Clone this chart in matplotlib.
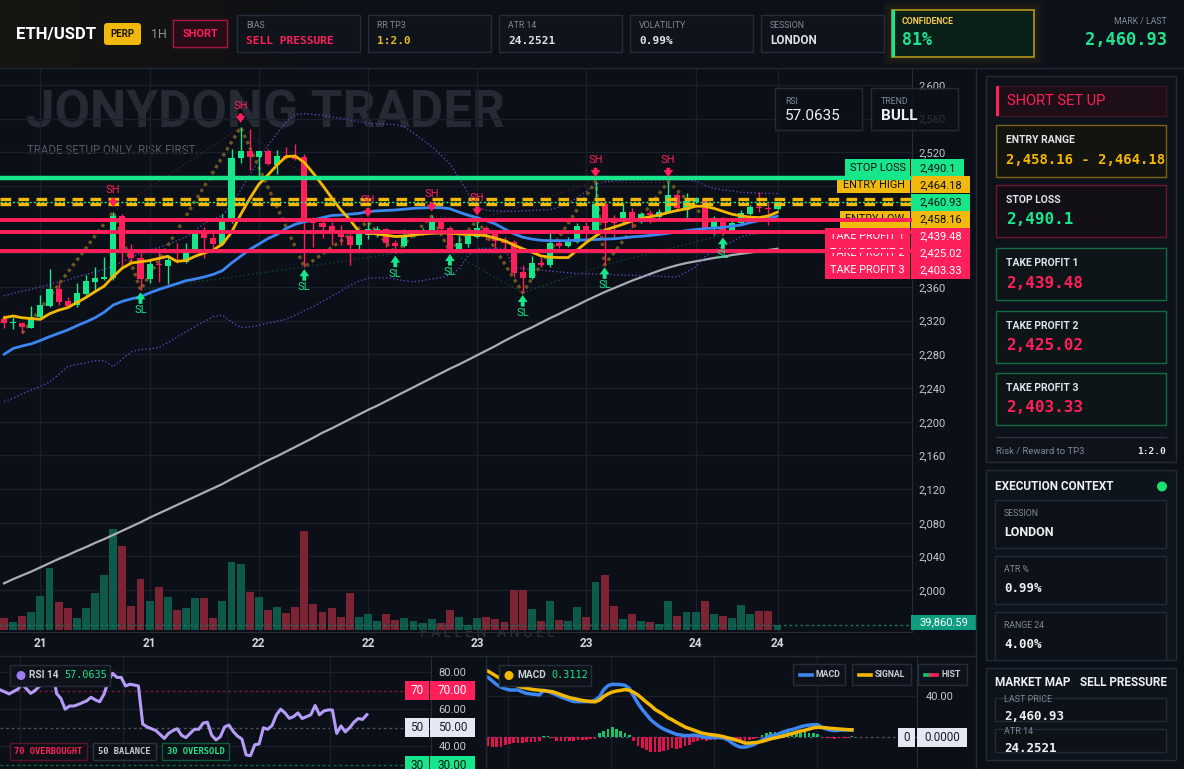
import numpy as np
import matplotlib
matplotlib.use("Agg")
import matplotlib.pyplot as plt
from matplotlib.patches import Rectangle, FancyBboxPatch, Circle
from matplotlib.lines import Line2D
from matplotlib.transforms import Affine2D

# ---------------- data ----------------
opens = [2321.6, 2317.0, 2316.8, 2311.7, 2324.8, 2337.4, 2357.6, 2343.4, 2338.2, 2352.1,
         2366.0, 2370.0, 2370.3, 2444.7, 2404.0, 2394.0, 2369.0, 2387.3, 2385.0, 2391.3,
         2390.0, 2403.9, 2423.8, 2418.6, 2410.7, 2439.6, 2512.9, 2521.6, 2514.0, 2521.6,
         2505.0, 2515.6, 2514.0, 2514.0, 2440.4, 2436.4, 2432.9, 2424.9, 2420.6, 2409.9,
         2421.8, 2426.0, 2428.5, 2411.9, 2408.7, 2420.6, 2423.8, 2425.0, 2440.8, 2430.5,
         2405.2, 2411.1, 2419.8, 2429.7, 2423.8, 2415.9, 2413.9, 2378.2, 2371.1, 2388.9,
         2386.2, 2412.7, 2408.7, 2413.9, 2432.5, 2425.8, 2458.6, 2441.6, 2437.6, 2449.5,
         2437.6, 2447.5, 2443.6, 2449.5, 2469.3, 2451.5, 2461.4, 2464.2, 2428.5, 2441.6,
         2427.7, 2435.6, 2446.7, 2455.4, 2454.3, 2452.7]
highs = [2326.7, 2324.8, 2317.6, 2337.8, 2350.5, 2381.0, 2366.3, 2348.5, 2364.4, 2374.3,
         2384.2, 2396.0, 2449.5, 2446.3, 2411.0, 2400.0, 2392.0, 2406.0, 2398.0, 2412.0,
         2412.7, 2425.7, 2431.7, 2423.8, 2446.7, 2524.0, 2549.7, 2547.7, 2521.6, 2523.5,
         2522.8, 2526.0, 2530.0, 2518.0, 2443.6, 2443.6, 2437.6, 2433.7, 2423.8, 2427.8,
         2437.6, 2432.0, 2429.7, 2415.9, 2428.5, 2427.5, 2429.7, 2444.4, 2441.6, 2432.9,
         2421.8, 2423.8, 2439.6, 2432.5, 2425.8, 2419.8, 2415.9, 2386.2, 2396.9, 2396.0,
         2427.0, 2415.5, 2419.8, 2436.4, 2437.6, 2485.2, 2463.4, 2445.5, 2459.4, 2453.5,
         2449.5, 2451.5, 2452.3, 2485.2, 2471.3, 2471.3, 2467.3, 2465.4, 2444.4, 2443.6,
         2439.6, 2451.5, 2457.4, 2473.3, 2459.4, 2461.5]
lows = [2310.9, 2309.7, 2305.0, 2310.9, 2321.6, 2335.8, 2338.6, 2335.8, 2336.6, 2350.5,
        2354.5, 2368.0, 2368.3, 2384.2, 2388.0, 2356.5, 2364.4, 2365.6, 2364.0, 2389.0,
        2388.9, 2402.0, 2394.0, 2406.0, 2409.9, 2436.4, 2507.0, 2499.0, 2491.9, 2504.9,
        2494.3, 2512.0, 2511.0, 2384.0, 2408.0, 2417.8, 2409.9, 2409.9, 2386.0, 2404.0,
        2416.6, 2420.0, 2407.9, 2400.0, 2408.0, 2419.0, 2422.0, 2423.8, 2425.8, 2402.0,
        2402.0, 2407.9, 2417.8, 2415.9, 2404.0, 2402.0, 2372.3, 2353.3, 2369.1, 2384.2,
        2384.2, 2406.0, 2407.5, 2412.7, 2415.9, 2423.8, 2386.2, 2419.8, 2435.6, 2429.7,
        2436.4, 2435.6, 2441.6, 2448.3, 2451.5, 2439.6, 2459.4, 2426.9, 2421.8, 2421.8,
        2425.8, 2433.7, 2445.5, 2449.5, 2433.7, 2451.5]
closes = [2316.8, 2317.6, 2312.1, 2324.8, 2338.6, 2357.6, 2342.6, 2337.4, 2353.3, 2367.5,
          2370.7, 2371.5, 2444.7, 2404.0, 2394.0, 2369.0, 2387.3, 2385.7, 2392.0, 2390.0,
          2404.8, 2423.0, 2418.6, 2410.7, 2439.6, 2513.7, 2521.6, 2514.0, 2521.6, 2505.7,
          2515.6, 2514.0, 2512.0, 2440.4, 2435.6, 2431.7, 2423.8, 2419.8, 2409.9, 2423.8,
          2428.5, 2428.5, 2411.9, 2408.7, 2421.0, 2424.9, 2427.0, 2436.8, 2428.9, 2404.0,
          2412.7, 2420.6, 2429.7, 2423.8, 2414.7, 2411.9, 2376.3, 2371.1, 2388.1, 2386.2,
          2411.9, 2408.7, 2413.9, 2432.5, 2425.8, 2458.6, 2436.4, 2435.6, 2449.5, 2441.6,
          2446.7, 2445.5, 2449.5, 2469.3, 2453.5, 2462.6, 2465.4, 2428.5, 2441.6, 2425.8,
          2435.6, 2447.5, 2455.4, 2453.5, 2452.7, 2460.93]
volumes = [96000, 64000, 112000, 144000, 272000, 496000, 224000, 176000, 96000, 176000,
           296000, 440000, 808000, 672000, 192000, 408000, 232000, 344000, 264000, 160000,
           176000, 256000, 256000, 96000, 232000, 544000, 528000, 304000, 264000, 160000,
           184000, 136000, 184000, 792000, 208000, 144000, 176000, 104000, 296000, 104000,
           128000, 72000, 128000, 80000, 96000, 72000, 56000, 88000, 56000, 160000,
           104000, 40000, 96000, 104000, 88000, 64000, 320000, 320000, 168000, 72000,
           232000, 80000, 72000, 184000, 104000, 384000, 440000, 192000, 88000, 128000,
           72000, 64000, 48000, 232000, 112000, 144000, 144000, 232000, 128000, 112000,
           96000, 200000, 128000, 152000, 152000, 39860.59]
ema_fast = [2323.5, 2325.6, 2323.5, 2322.5, 2321.6, 2328.2, 2332.5, 2335.5, 2341.5, 2347.5,
            2354.5, 2361.0, 2372.5, 2382.5, 2388.5, 2390.0, 2391.5, 2394.0, 2396.5, 2390.5,
            2391.5, 2396.5, 2400.5, 2404.0, 2411.0, 2425.0, 2446.0, 2465.0, 2482.0, 2493.0,
            2505.0, 2515.0, 2515.6, 2508.0, 2495.0, 2481.0, 2466.0, 2452.0, 2440.0, 2426.0,
            2424.0, 2423.0, 2421.5, 2420.0, 2420.5, 2421.8, 2423.0, 2423.8, 2424.3, 2424.2,
            2423.0, 2422.5, 2422.0, 2421.0, 2418.0, 2415.0, 2410.0, 2405.5, 2401.5, 2397.0,
            2395.5, 2395.0, 2395.0, 2404.0, 2413.0, 2420.5, 2427.5, 2431.0, 2434.5, 2438.5,
            2441.5, 2443.5, 2445.5, 2448.5, 2451.0, 2453.0, 2456.0, 2456.0, 2453.5, 2450.0,
            2446.5, 2444.5, 2443.0, 2442.5, 2444.5, 2449.0]
ema_slow = [2280.0, 2287.0, 2290.0, 2292.5, 2296.5, 2301.0, 2305.0, 2309.0, 2314.0, 2318.5,
            2323.5, 2330.0, 2338.6, 2343.0, 2346.0, 2348.5, 2353.0, 2357.0, 2360.5, 2364.0,
            2367.5, 2369.5, 2372.0, 2375.0, 2379.5, 2388.5, 2396.5, 2404.5, 2411.0, 2417.5,
            2422.5, 2429.5, 2434.5, 2437.5, 2439.6, 2442.5, 2445.0, 2445.5, 2446.5, 2447.5,
            2449.5, 2450.5, 2451.0, 2451.5, 2452.5, 2453.5, 2454.0, 2454.3, 2454.3, 2453.0,
            2449.0, 2445.3, 2442.4, 2438.8, 2434.9, 2429.0, 2423.5, 2419.2, 2417.0, 2415.5,
            2415.1, 2415.1, 2415.1, 2415.7, 2416.0, 2416.4, 2417.0, 2417.3, 2418.3, 2419.6,
            2420.3, 2421.3, 2422.5, 2423.9, 2425.3, 2427.0, 2428.3, 2429.4, 2430.0, 2430.8,
            2432.3, 2433.7, 2436.6, 2439.0, 2441.7, 2444.2]
ma_long = [2008.0, 2013.0, 2017.5, 2022.0, 2027.0, 2032.0, 2037.0, 2041.5, 2046.5, 2051.0,
           2056.0, 2060.5, 2065.5, 2070.5, 2075.5, 2080.5, 2086.0, 2091.0, 2096.0, 2101.0,
           2106.0, 2111.0, 2116.0, 2121.0, 2126.0, 2132.0, 2137.5, 2143.0, 2148.5, 2154.0,
           2159.0, 2164.5, 2170.0, 2175.5, 2181.0, 2187.0, 2192.0, 2197.5, 2203.0, 2208.5,
           2214.0, 2219.0, 2224.5, 2230.0, 2235.5, 2241.0, 2246.5, 2252.0, 2257.5, 2263.0,
           2268.0, 2273.5, 2279.0, 2284.5, 2290.0, 2296.0, 2301.5, 2307.0, 2312.0, 2317.5,
           2323.0, 2328.0, 2333.5, 2338.5, 2344.0, 2349.0, 2354.0, 2358.5, 2363.0, 2367.5,
           2371.5, 2375.5, 2379.5, 2383.0, 2386.0, 2388.5, 2390.5, 2392.5, 2394.5, 2396.0,
           2398.0, 2399.5, 2401.0, 2402.5, 2404.0, 2405.5]
bb_upper = [2349.5, 2352.5, 2355.0, 2357.5, 2360.0, 2363.0, 2366.0, 2368.5, 2372.0, 2375.0,
            2378.0, 2381.0, 2385.0, 2390.0, 2395.0, 2400.0, 2404.0, 2407.0, 2410.5, 2415.0,
            2419.5, 2427.0, 2435.5, 2441.0, 2445.0, 2458.0, 2475.0, 2493.0, 2511.0, 2528.5,
            2542.0, 2556.0, 2565.0, 2566.0, 2565.0, 2564.0, 2562.0, 2560.5, 2558.5, 2556.5,
            2554.5, 2554.0, 2553.5, 2553.0, 2550.0, 2543.0, 2535.0, 2527.0, 2517.0, 2506.0,
            2490.0, 2471.0, 2455.0, 2451.0, 2450.5, 2450.0, 2450.0, 2450.5, 2451.0, 2451.5,
            2452.0, 2455.0, 2460.0, 2466.0, 2474.0, 2482.0, 2485.0, 2486.0, 2486.5, 2487.0,
            2487.0, 2487.0, 2487.0, 2487.0, 2487.0, 2487.0, 2486.0, 2481.0, 2477.0, 2475.5,
            2474.0, 2472.5, 2472.0, 2471.5, 2471.3, 2471.0]
bb_lower = [2224.0, 2228.0, 2233.0, 2237.5, 2242.0, 2247.0, 2256.0, 2265.5, 2268.0, 2270.0,
            2272.5, 2272.5, 2265.5, 2274.5, 2283.0, 2285.7, 2286.5, 2288.0, 2294.0, 2300.5,
            2307.0, 2313.0, 2319.0, 2325.0, 2326.5, 2318.5, 2312.0, 2312.8, 2314.5, 2317.0,
            2319.5, 2321.7, 2326.5, 2332.0, 2337.0, 2343.0, 2349.0, 2355.0, 2362.0, 2367.0,
            2370.3, 2371.0, 2371.0, 2369.5, 2367.5, 2366.3, 2367.7, 2369.5, 2371.2, 2374.0,
            2381.5, 2397.0, 2405.9, 2406.0, 2406.0, 2406.0, 2383.0, 2382.0, 2381.0, 2380.0,
            2379.0, 2378.0, 2377.0, 2376.0, 2375.8, 2375.3, 2375.0, 2374.6, 2374.3, 2374.0,
            2373.5, 2373.0, 2372.7, 2372.3, 2372.0, 2378.0, 2384.0, 2396.0, 2403.0, 2408.5,
            2414.0, 2419.5, 2422.5, 2423.6, 2424.7, 2425.8]
rsi = [70.3, 69.3, 68.2, 69.5, 70.7, 73.5, 71.0, 68.5, 70.0, 72.3,
       73.4, 73.9, 82.0, 68.5, 65.8, 60.0, 61.7, 61.7, 62.5, 63.5,
       64.5, 66.4, 65.0, 64.0, 68.0, 75.0, 79.3, 77.1, 77.1, 72.5,
       73.4, 73.0, 72.5, 52.0, 50.5, 49.5, 48.6, 46.5, 44.3, 47.0,
       48.5, 49.5, 46.0, 44.7, 47.0, 49.2, 49.2, 52.5, 53.0, 46.0,
       43.5, 45.2, 50.5, 51.5, 48.0, 45.5, 44.0, 35.4, 35.0, 40.9,
       41.3, 50.0, 49.2, 51.2, 56.9, 60.0, 58.0, 55.1, 56.0, 58.0,
       55.0, 56.0, 57.0, 62.0, 57.0, 59.0, 59.6, 59.6, 47.0, 51.0,
       47.8, 50.0, 53.0, 55.0, 54.5, 57.06]
macd = [58.0, 54.5, 51.0, 48.5, 47.0, 45.8, 45.8, 45.8, 44.0, 42.5,
        42.0, 41.5, 41.0, 45.5, 44.5, 42.7, 41.0, 39.0, 37.5, 36.0,
        34.6, 34.5, 34.5, 34.5, 34.5, 36.0, 39.0, 46.0, 50.0, 51.3,
        51.2, 51.0, 50.3, 47.4, 40.0, 33.0, 27.0, 22.0, 17.0, 13.5,
        10.5, 8.0, 6.2, 4.5, 2.9, 2.2, 1.6, 1.6, 2.1, 1.8,
        0.5, -0.3, -0.3, -0.3, -0.3, -0.8, -2.5, -5.5, -8.0, -9.5,
        -9.5, -8.5, -7.3, -5.0, -2.8, -0.5, 1.5, 2.0, 3.5, 5.3,
        6.6, 7.5, 8.7, 10.2, 11.2, 11.8, 12.3, 12.2, 9.5, 8.0,
        7.0, 6.4, 6.8, 7.1, 7.1, 7.1]
signal = [64.0, 61.5, 59.0, 56.5, 54.5, 53.0, 51.2, 49.5, 48.3, 47.5,
          46.6, 46.0, 45.6, 45.2, 44.6, 44.2, 42.8, 41.3, 39.8, 38.4,
          37.5, 36.6, 35.7, 35.1, 34.7, 34.3, 36.0, 39.5, 42.0, 43.8,
          44.8, 45.4, 46.2, 45.5, 43.6, 41.0, 37.5, 34.0, 30.8, 27.0,
          24.5, 22.0, 19.0, 17.0, 14.5, 12.3, 10.0, 8.5, 7.0, 5.5,
          4.0, 3.2, 2.6, 2.1, 1.5, 0.6, -0.6, -1.5, -2.8, -4.0,
          -5.6, -5.6, -5.2, -4.9, -4.0, -2.8, -1.5, -0.6, 0.3, 1.2,
          2.5, 3.6, 4.8, 6.0, 6.8, 8.0, 9.2, 9.7, 9.5, 9.2,
          8.7, 8.4, 8.0, 7.7, 7.4, 7.2]
hist = [-8.4, -9.0, -9.7, -9.0, -7.4, -6.5, -5.8, -5.5, -5.2, -5.0,
        -4.5, -4.2, -4.0, 1.0, 1.0, -0.5, -3.5, -3.8, -3.8, -3.5,
        -3.2, -3.0, -2.6, -2.4, -2.0, -1.5, 4.5, 6.0, 8.5, 9.5,
        8.0, 6.0, 4.0, 2.5, -4.0, -8.0, -10.5, -12.5, -14.0, -14.5,
        -14.0, -13.0, -12.0, -10.5, -11.0, -10.0, -8.5, -7.0, -5.0, -3.5,
        -3.0, -3.5, -3.0, -2.5, -2.0, -1.5, -2.5, -4.0, -5.0, -5.5,
        -3.5, -2.5, -1.5, -0.5, 2.5, 4.5, 5.5, 5.0, 5.5, 5.5,
        5.0, 4.5, 4.5, 4.5, 5.0, 4.0, 4.0, 3.0, 0.5, -0.5,
        -1.0, -1.5, -1.0, -0.5, -0.5, 1.5]

swing_highs = [12, 26, 40, 47, 52, 65, 73]
swing_lows = [15, 33, 43, 49, 57, 66, 79]
zigzag = [2, 12, 15, 26, 33, 40, 43, 47, 49, 52, 57, 65, 66, 73, 79]

time_ticks = [4, 16, 28, 40, 52, 64, 76, 85]
time_labels = ["21", "21", "22", "22", "23", "23", "24", "24"]
price_ticks = list(range(2000, 2601, 40))

level_names = ["STOP LOSS", "ENTRY HIGH", "", "ENTRY LOW", "TAKE PROFIT 1", "TAKE PROFIT 2", "TAKE PROFIT 3"]
level_prices = [2490.1, 2464.18, 2460.93, 2458.16, 2439.48, 2425.02, 2403.33]
level_texts = ["2,490.1", "2,464.18", "2,460.93", "2,458.16", "2,439.48", "2,425.02", "2,403.33"]

rsi_levels = [70, 50, 30]
header_cards = [("BIAS", "SELL PRESSURE"), ("RR TP3", "1:2.0"), ("ATR 14", "24.2521"),
                ("VOLATILITY", "0.99%"), ("SESSION", "LONDON")]
setup_cards = [("ENTRY RANGE", "2,458.16 - 2,464.18"), ("STOP LOSS", "2,490.1"),
               ("TAKE PROFIT 1", "2,439.48"), ("TAKE PROFIT 2", "2,425.02"),
               ("TAKE PROFIT 3", "2,403.33")]
context_cards = [("SESSION", "LONDON"), ("ATR %", "0.99%"), ("RANGE 24", "4.00%")]
map_cards = [("LAST PRICE", "2,460.93"), ("ATR 14", "24.2521")]

# ---------------- look ----------------
W, H, DPI = 1184, 769, 100
BG = "#0b0f17"
PANEL = "#0f141d"
EDGE = "#252c3a"
GRID = "#1a202b"
GREEN = "#17e68a"
RED = "#ff1f5a"
YELLOW = "#f5b800"
BLUE = "#3b86f0"
PURPLE = "#5b45b0"
TXT = "#dde1e8"
MUTED = "#808897"
DARK = "#0b0f17"
SANS = ["Roboto", "DejaVu Sans"]
MONO = ["DejaVu Sans Mono"]
plt.rcParams["font.family"] = SANS

fig = plt.figure(figsize=(W / DPI, H / DPI), dpi=DPI)
fig.patch.set_facecolor(BG)
# pixel coords, origin top-left
PX = Affine2D().scale(1 / DPI, -1 / DPI).translate(0, H / DPI) + fig.dpi_scale_trans


def px_ax(x0, y0, x1, y1, z=0, fc="none"):
    a = fig.add_axes([x0 / W, 1 - y1 / H, (x1 - x0) / W, (y1 - y0) / H], zorder=z)
    a.set_facecolor(fc)
    for s in a.spines.values():
        s.set_visible(False)
    a.tick_params(length=0, labelbottom=False, labelleft=False)
    return a


def box(x0, y0, x1, y1, fc="none", ec="none", lw=1.0, z=3, alpha=1.0, r=0, on=None):
    if r:
        p = FancyBboxPatch((x0, y0), x1 - x0, y1 - y0, boxstyle=f"round,pad=0,rounding_size={r}")
    else:
        p = Rectangle((x0, y0), x1 - x0, y1 - y0)
    p.set(facecolor=fc, edgecolor=ec, linewidth=lw, zorder=z, alpha=alpha, transform=PX)
    if on is None:
        fig.add_artist(p)
    else:
        p.set_clip_on(False)
        on.add_patch(p)
    return p


def label(x, y, s, size=8, color=TXT, ha="left", va="center", bold=False, mono=False, z=6, on=None, **kw):
    kws = dict(fontsize=size, color=color, ha=ha, va=va, zorder=z, transform=PX,
               fontweight="bold" if bold else "normal", family=MONO if mono else SANS)
    kws.update(kw)
    if on is None:
        return fig.text(x, y, s, **kws)
    return on.text(x, y, s, clip_on=False, **kws)


def seg(xs, ys, color=EDGE, lw=1.0, z=4, ls="-"):
    fig.add_artist(Line2D(xs, ys, color=color, lw=lw, ls=ls, zorder=z, transform=PX))


def to_px(a, x, y):
    return PX.inverted().transform(a.transData.transform((x, y)))


n = len(closes)
x = np.arange(n)
o, hi, lo, c = (np.array(v) for v in (opens, highs, lows, closes))
up = c >= o

# ---------------- header ----------------
ax_head = px_ax(0, 0, W, 67, z=0)
t = np.clip(np.linspace(0, 1, 300) * 3.2, 0, 1)
c0 = np.array([0x17, 0x15, 0x10]) / 255
c1 = np.array([0x0c, 0x10, 0x18]) / 255
ax_head.imshow((c0[None, :] * (1 - t)[:, None] + c1[None, :] * t[:, None])[None], aspect="auto",
               extent=(0, 1, 0, 1))
ax_head.set_axis_off()
seg([0, W], [67.5, 67.5], "#222936", 1)

label(16, 34, "ETH/USDT", 12, "#ffffff", bold=True)
box(104, 23, 141, 45, fc="#f0b90b", r=3)
label(122.5, 34, "PERP", 7, "#1c1600", ha="center", bold=True)
label(151, 34, "1H", 9, "#8a909c")
box(171, 18, 229, 49, fc=RED, alpha=0.06, z=2.5)
box(173, 20, 227, 47, fc="#250c17", ec="#a3173f", lw=1)
label(200, 34, "SHORT", 7.8, RED, ha="center", bold=True)

card_x = [237, 368, 499, 630, 761]
card_col = [RED, "#e6bb1f", TXT, TXT, TXT]
for cx, (name, val), col in zip(card_x, header_cards, card_col):
    box(cx, 15, cx + 123, 52, fc="#0f131b", ec=EDGE)
    label(cx + 9, 26, name, 6.3, MUTED)
    label(cx + 9, 41, val, 8 if name != "SESSION" else 8.5, col, bold=True,
          mono=name != "SESSION")

for k in range(4):
    box(892 - 3 * k, 10 - 3 * k, 1034 + 3 * k, 57 + 3 * k, fc="#c9a21a", alpha=0.035, z=2.5)
box(892, 10, 1034, 57, fc="#0b1f19", ec="#b8951b", lw=1.2)
box(892, 10, 895, 57, fc=GREEN, z=3.2)
label(902, 22, "CONFIDENCE", 6.3, "#f2c94c", bold=True)
label(902, 40, "81%", 12, "#1fe391", bold=True, mono=True)
label(1167, 21.5, "MARK / LAST", 6.3, MUTED, ha="right")
label(1167, 40, "2,460.93", 12.3, "#1fe391", ha="right", bold=True, mono=True)

# ---------------- main price chart ----------------
XL = (-4 / 9.1, (912 - 4) / 9.1)
YL = (1950.2, 2620.2)
ax_bg = px_ax(0, 68, 912, 632, z=0, fc=BG)
ax_vol = px_ax(0, 68, 912, 630, z=1)
ax = px_ax(0, 68, 912, 632, z=2)
for a in (ax_bg, ax_vol, ax):
    a.set_xlim(XL)
ax_bg.set_ylim(YL)
ax.set_ylim(YL)
ax_vol.set_ylim(0, 562 * 8000)

ax_bg.set_xticks(time_ticks)
ax_bg.set_yticks(price_ticks)
ax_bg.grid(True, color=GRID, lw=1)

ax.set_xticks(time_ticks, time_labels)
ax.set_yticks(price_ticks, [f"{p:,}" for p in price_ticks])
ax.yaxis.tick_right()
ax.tick_params(axis="y", labelright=True, labelleft=False, labelsize=8, labelcolor="#c3c8d1", pad=4.3)
ax.tick_params(axis="x", labelbottom=True, labelsize=8.5, labelcolor="#d2d6de", pad=3.5)
for tl in ax.get_xticklabels():
    tl.set_fontweight("bold")
for side in ("right", "bottom"):
    ax.spines[side].set_visible(True)
    ax.spines[side].set_color("#262d3a")

# watermarks
label(26, 114, "JONYDONG TRADER", 37, "#252a34", bold=True, z=1, on=ax_bg)
label(27, 150, "TRADE SETUP ONLY. RISK FIRST.", 8.3, "#545a65", z=1, on=ax_bg)
ax_bg.text(487, 633, "F A L L E N   A N G E L", transform=PX, fontsize=10, color="#2c313b",
           ha="center", va="center", zorder=1)

# volume
ax_vol.bar(x, volumes, width=0.86, color=np.where(up, "#0d5a4b", "#7c2434"), zorder=1)
ax_vol.axhline(volumes[-1], color="#1d6f5d", lw=1, ls=(0, (2, 2)), zorder=2)

# indicators
ax.plot(x, ma_long, color="#a9adb5", lw=1.6, zorder=2.2)
ax.plot(x, bb_upper, color=PURPLE, lw=1, ls=(0, (1, 1.6)), zorder=2.2)
ax.plot(x, bb_lower, color=PURPLE, lw=1, ls=(0, (1, 1.6)), zorder=2.2)
zz_y = [hi[i] if i in swing_highs else lo[i] for i in zigzag]
ax.plot(zigzag, zz_y, color="#6a5620", lw=2.4, ls=(0, (1, 1.1)), zorder=2.3)
for a_, b_ in zip(swing_highs[:-1], swing_highs[1:]):
    ax.plot([a_, b_], [hi[a_], hi[b_]], color="#4d1a2d", lw=1, ls=(0, (1, 2)), zorder=2.2)
for a_, b_ in zip(swing_lows[:-1], swing_lows[1:]):
    ax.plot([a_, b_], [lo[a_], lo[b_]], color="#174535", lw=1, ls=(0, (1, 2)), zorder=2.2)

# candles
ccol = np.where(up, GREEN, RED)
ax.vlines(x, lo, hi, colors=ccol, lw=1, zorder=3)
ax.bar(x, np.maximum(np.abs(c - o), 1.3), bottom=np.minimum(o, c), width=0.66, color=ccol,
       lw=0, zorder=3.1)
ax.plot(x, ema_slow, color=BLUE, lw=2, zorder=3.3, solid_capstyle="round")
ax.plot(x, ema_fast, color=YELLOW, lw=2, zorder=3.3, solid_capstyle="round")

# level lines
level_style = [
    dict(color=GREEN, lw=3.2, ls="-", left=845, right=964, fc=GREEN, tc=DARK),
    dict(color=YELLOW, lw=2.4, ls=(0, (3.2, 2.2)), left=837, right=970, fc="#f0b90b", tc=DARK),
    dict(color=GREEN, lw=1, ls=(0, (1.5, 1.5)), left=None, right=970, fc=GREEN, tc=DARK),
    dict(color=YELLOW, lw=2.4, ls=(0, (3.2, 2.2)), left=840, right=970, fc="#f0b90b", tc=DARK),
    dict(color=RED, lw=2.8, ls="-", left=825, right=970, fc=RED, tc="#ffffff"),
    dict(color=RED, lw=2.8, ls="-", left=825, right=970, fc=RED, tc="#ffffff"),
    dict(color=RED, lw=2.8, ls="-", left=825, right=970, fc=RED, tc="#ffffff"),
]
for p, st in zip(level_prices, level_style):
    ax.axhline(p, color=st["color"], lw=st["lw"], ls=st["ls"], zorder=4)

mark_y = to_px(ax, 0, level_prices[2])[1]
for k, (name, ptxt, st) in enumerate(zip(level_names, level_texts, level_style)):
    cy = mark_y + (k - 2) * 17.1
    if name:
        box(st["left"], cy - 8.5, 910, cy + 8.5, fc=st["fc"], z=3.5, on=ax)
        label((st["left"] + 910) / 2, cy, name, 7.8, st["tc"], ha="center", z=3.6, on=ax)
    box(911, cy - 8.5, st["right"], cy + 8.5, fc=st["fc"], z=3.5, on=ax)
    label((911 + st["right"]) / 2, cy, ptxt, 8, st["tc"], ha="center", z=3.6, on=ax)

# swing markers
arrow = "simple,head_length=0.5,head_width=0.7,tail_width=0.28"
for i in swing_highs:
    ax.annotate("", xy=(i, hi[i]), xytext=(0, 10), textcoords="offset points", zorder=5,
                arrowprops=dict(arrowstyle=arrow, color=RED, lw=0, shrinkA=0, shrinkB=3.3))
    ax.annotate("SH", xy=(i, hi[i]), xytext=(0, 15.5), textcoords="offset points", ha="center",
                va="center", color=RED, fontsize=8, zorder=5)
for i in swing_lows:
    ax.annotate("", xy=(i, lo[i]), xytext=(0, -10), textcoords="offset points", zorder=5,
                arrowprops=dict(arrowstyle=arrow, color=GREEN, lw=0, shrinkA=0, shrinkB=1.7))
    ax.annotate("SL", xy=(i, lo[i]), xytext=(0, -14.5), textcoords="offset points", ha="center",
                va="center", color=GREEN, fontsize=8, zorder=5)

# volume value tag
vy = to_px(ax_vol, 0, volumes[-1])[1]
box(911, vy - 10.5, 976, vy + 4.5, fc="#0f9d7f", z=4)
label(943.5, vy - 3, f"{volumes[-1]:,.2f}", 8, "#ffffff", ha="center", z=5)

# RSI / TREND chips
for bx, name, val, bold in [(775, "RSI", "57.0635", False), (871, "TREND", "BULL", True)]:
    box(bx, 88, bx + 87, 130, fc=BG, ec="#2a3140", alpha=0.82)
    label(bx + 10, 101, name, 6.3, MUTED)
    label(bx + 10, 116.5, val, 11, "#eef0f4", bold=bold)

# ---------------- RSI panel ----------------
ax_rsi = px_ax(0, 656, 431, 769, z=1, fc=BG)
ax_rsi.set_xlim(-0.5 / 4.31, 430.5 / 4.31)
ax_rsi.set_ylim(27.85, 88.6)
ax_rsi.set_xticks([4.5, 28.5, 52.5, 76.5])
ax_rsi.set_yticks([40, 60, 80], ["40.00", "60.00", "80.00"])
ax_rsi.grid(True, color=GRID, lw=1)
ax_rsi.yaxis.tick_right()
ax_rsi.tick_params(axis="y", labelright=True, labelsize=8, labelcolor="#c3c8d1", pad=5.5)
ax_rsi.spines["right"].set_visible(True)
ax_rsi.spines["right"].set_color("#262d3a")
for v, col in zip(rsi_levels, ["#7a1a35", "#4b5160", "#0f6b45"]):
    ax_rsi.axhline(v, color=col, lw=1, ls=(0, (2, 2)), zorder=1.5)
ax_rsi.plot(x, rsi, color="#b49cf7", lw=2.2, zorder=3)

for v, fc, tc in zip(rsi_levels, [RED, "#e3e8f2", GREEN], ["#ffffff", "#1a1f29", "#0b1a12"]):
    py = to_px(ax_rsi, 0, v)[1]
    box(405, py - 9.5, 429, py + 9.5, fc=fc, z=4)
    box(430, py - 9.5, 475, py + 9.5, fc=fc, z=4)
    label(417, py, f"{v}", 8.5, tc, ha="center")
    label(452.5, py, f"{v:.2f}", 8.5, tc, ha="center")

box(10, 665, 110, 686, fc="#0e131b", ec=EDGE)
fig.add_artist(Circle((21, 675.5), 3.8, color="#9c7cf2", transform=PX, zorder=5))
label(29, 675.5, "RSI 14", 7.3, "#c9ced6", bold=True)
label(64, 675.5, "57.0635", 7.3, GREEN, mono=True)
for (x0, x1), s, ec, tc in zip([(10, 87), (93, 156), (162, 229)],
                               ["70 OVERBOUGHT", "50 BALANCE", "30 OVERSOLD"],
                               ["#5a1428", "#2d3340", "#0f5a3a"], [RED, "#c9ced6", GREEN]):
    box(x0, 743, x1, 760, fc="#0d1017", ec=ec)
    label((x0 + x1) / 2, 751.5, s, 6.3, tc, ha="center", bold=True, mono=True)

# ---------------- MACD panel ----------------
ax_macd = px_ax(487, 656, 917, 769, z=1, fc=BG)
ax_macd.set_xlim(-0.25, 100.2)
ax_macd.set_ylim(-30.7, 78.7)
ax_macd.set_xticks([4.7, 28.7, 52.8, 76.9])
ax_macd.set_yticks([40], ["40.00"])
ax_macd.grid(True, color=GRID, lw=1)
ax_macd.yaxis.tick_right()
ax_macd.tick_params(axis="y", labelright=True, labelsize=8, labelcolor="#c3c8d1", pad=6)
ax_macd.spines["right"].set_visible(True)
ax_macd.spines["right"].set_color("#262d3a")
ax_macd.axhline(0, color="#4b5160", lw=1, ls=(0, (2, 2)), zorder=1.5)
hv = np.array(hist)
ax_macd.bar(x, hv, width=0.62, color=np.where(hv >= 0, "#13c46c", "#e3124e"), zorder=2)
ax_macd.plot(x, macd, color=BLUE, lw=2.5, zorder=3)
ax_macd.plot(x, signal, color=YELLOW, lw=2.5, zorder=3.1)

zy = to_px(ax_macd, 0, 0)[1]
box(898, zy - 9.5, 915, zy + 9.5, fc="#e3e8f2", z=4)
box(917, zy - 9.5, 967, zy + 9.5, fc="#e3e8f2", z=4)
label(906.5, zy, "0", 8.5, "#1a1f29", ha="center")
label(942, zy, "0.0000", 8.5, "#1a1f29", ha="center")

box(499, 665, 591, 686, fc="#0e131b", ec=EDGE)
fig.add_artist(Circle((509, 675.5), 3.8, color=YELLOW, transform=PX, zorder=5))
label(517, 675.5, "MACD", 7.3, "#c9ced6", bold=True)
label(551, 675.5, "0.3112", 7.3, GREEN, mono=True)
for (x0, x1), s, col in zip([(793, 845), (852, 911), (918, 967)], ["MACD", "SIGNAL", "HIST"],
                            [BLUE, YELLOW, None]):
    box(x0, 664, x1, 685, fc="#0e131b", ec=EDGE)
    if col:
        seg([x0 + 7, x0 + 19], [674.5, 674.5], col, 2.6, z=5)
    else:
        seg([x0 + 7, x0 + 13], [674.5, 674.5], "#13c46c", 2.6, z=5)
        seg([x0 + 13, x0 + 19], [674.5, 674.5], RED, 2.6, z=5)
    label(x0 + 23, 674.5, s, 6.3, "#c9ced6", bold=True)

# separators
seg([0, 975], [656, 656], "#222936")
seg([486, 486], [656, 769], "#222936")
seg([975.5, 975.5], [68, 769], "#222936")

# ---------------- sidebar ----------------
box(986, 76, 1176, 462, fc="#0e131b", ec="#232b38")
box(996, 86, 1166, 116, fc="#1d0e18", ec="#3a1626")
box(996, 86, 999, 116, fc=RED, z=3.2)
label(1007, 101, "SHORT SET UP", 10.5, RED)

card_top = [125, 185, 248, 311, 373]
card_edge = ["#7d6412", "#6e1530", "#136b43", "#136b43", "#136b43"]
card_fill = ["#13130f", "#130f17", "#0e1519", "#0e1519", "#0e1519"]
card_val = [YELLOW, GREEN, RED, RED, RED]
for y0, (name, val), ec, fc, vc in zip(card_top, setup_cards, card_edge, card_fill, card_val):
    box(996, y0, 1166, y0 + 52, fc=fc, ec=ec, lw=1)
    label(1006, y0 + 15, name, 7.5, "#dfe3ea", bold=True)
    label(1006, y0 + 35, val, 10 if name == "ENTRY RANGE" else 11.5, vc, bold=True, mono=True)
seg([996, 1166], [436.5, 436.5], "#2a3140")
label(996, 451, "Risk / Reward to TP3", 6.8, MUTED)
label(1166, 451, "1:2.0", 6.8, "#e6e9ee", ha="right", bold=True, mono=True)

box(986, 470, 1176, 660, fc="#0e141c", ec="#232b38")
label(995, 486, "EXECUTION CONTEXT", 8.5, "#eef0f4", bold=True)
fig.add_artist(Circle((1162, 486.5), 4.3, color="#19e06f", transform=PX, zorder=5))
for y0, (name, val) in zip([500, 556, 612], context_cards):
    box(995, y0, 1166, y0 + 48, fc="#0d1219", ec="#232b38")
    label(1004, y0 + 13, name, 6.3, MUTED)
    label(1004, y0 + 32, val, 9, "#eef0f4", bold=True, mono=name != "SESSION")

box(986, 668, 1176, 760, fc="#0e141c", ec="#232b38")
label(995, 683, "MARKET MAP", 8.5, "#eef0f4", bold=True)
label(1167, 683, "SELL PRESSURE", 8.5, "#eef0f4", ha="right", bold=True)
for y0, (name, val) in zip([698, 729], map_cards):
    box(995, y0, 1166, y0 + 23, fc="#0d1219", ec="#232b38")
    label(1004, y0 + 2, name, 6.5, MUTED)
    label(1004, y0 + 19, val, 9, "#eef0f4", bold=True, mono=True)

fig.savefig("out.png", dpi=DPI, facecolor=BG)
